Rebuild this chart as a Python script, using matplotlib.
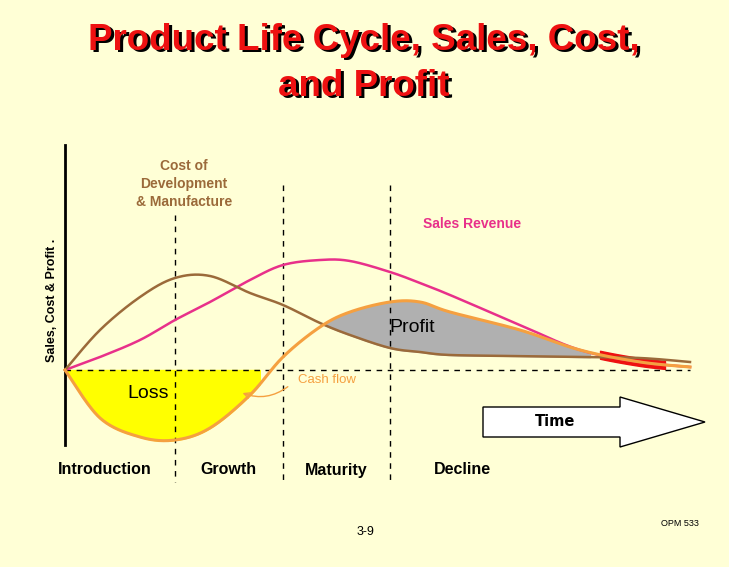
import matplotlib
matplotlib.use("Agg")
import matplotlib.pyplot as plt
import numpy as np
from matplotlib.patches import Polygon

# data (slide pixel space: x = time, y = level, inverted)
t = np.array([65,100,140,175,210,250,283,320,350,390,420,450,520,580,640,690])
sales = np.array([370,357,340,320,302,280,265,260,261,272,283,295,325,350,362,367])
cost = np.array([370,330,297,278,276,293,305,323,335,348,352,355,356,357,358,362])
cash = np.array([370,418,437,440,428,395,357,327,312,302,302,312,330,350,362,367])
stages = ["Introduction", "Growth", "Maturity", "Decline"]
stage_x = [105, 228, 336, 462]


def smooth(x, y, n=30):
    P = np.column_stack([x, y]).astype(float)
    P = np.vstack([P[0], P, P[-1]])
    out = []
    for i in range(1, len(P) - 2):
        p0, p1, p2, p3 = P[i - 1], P[i], P[i + 1], P[i + 2]
        for u in np.linspace(0, 1, n, endpoint=False):
            out.append(0.5 * ((2 * p1) + (-p0 + p2) * u + (2 * p0 - 5 * p1 + 4 * p2 - p3) * u ** 2
                              + (-p0 + 3 * p1 - 3 * p2 + p3) * u ** 3))
    out.append(P[-2])
    out = np.array(out)
    return out[:, 0], out[:, 1]


bg = "#FFFFD6"
fig = plt.figure(figsize=(7.29, 5.67), dpi=100, facecolor=bg)
ax = fig.add_axes([0, 0, 1, 1])
ax.set_facecolor(bg)
ax.set_xlim(0, 729); ax.set_ylim(567, 0); ax.axis("off")

tt = np.linspace(65, 690, 800)
s = np.interp(tt, *smooth(t, sales)); c = np.interp(tt, *smooth(t, cost)); f = np.interp(tt, *smooth(t, cash))
ax.fill_between(tt, 370, f, where=(f > 370) & (tt < 260), color="#FFFF00", zorder=1)
ax.fill_between(tt, c, f, where=(f < c) & (tt > 300) & (tt < 590), color="#B0B0B0", zorder=1)
ax.fill_between(tt, f - 4, f + 4, where=(tt > 600) & (tt < 665), color="#EE1111", zorder=2)

ax.plot(tt, s, color="#E8308A", lw=1.8, zorder=3)
ax.plot(tt, c, color="#9B6A3A", lw=1.8, zorder=3)
ax.plot(tt, f, color="#F5A040", lw=2.2, zorder=3)

ax.plot([65, 65], [145, 445], color="black", lw=2)
ax.plot([65, 690], [370, 370], color="black", lw=1, ls=(0, (4, 4)))
for x, y0 in [(175, 215), (283, 185), (390, 185)]:
    ax.plot([x, x], [y0, 482], color="black", lw=1, ls=(0, (4, 4)))

ax.add_patch(Polygon([(483, 407), (620, 407), (620, 397), (705, 422), (620, 447), (620, 437), (483, 437)],
                     closed=True, facecolor="white", edgecolor="black", lw=1, zorder=4))
ax.text(555, 422, "Time", fontsize=10.5, fontweight="bold", ha="center", va="center", zorder=5)

tf = ["Liberation Sans", "DejaVu Sans"]
for dx, col in [(2.5, "black"), (0, "#EE1111")]:
    ax.text(364 + dx, 40 + dx, "Product Life Cycle, Sales, Cost,", family=tf, fontsize=26.5, fontweight="bold",
            color=col, ha="center", va="center")
    ax.text(364 + dx, 86 + dx, "and Profit", family=tf, fontsize=26.5, fontweight="bold",
            color=col, ha="center", va="center")

ax.text(184, 184, "Cost of\nDevelopment\n& Manufacture", color="#9B6A3A", fontsize=10, fontweight="bold",
        ha="center", va="center", linespacing=1.4, family=tf)
ax.text(472, 224, "Sales Revenue", color="#E8308A", fontsize=10, fontweight="bold", ha="center", va="center", family=tf)
ax.text(412, 327, "Profit", fontsize=14, ha="center", va="center", zorder=5, family=tf)
ax.text(148, 393, "Loss", fontsize=14, ha="center", va="center", zorder=5, family=tf)
ax.text(327, 380, "Cash flow", color="#F5A040", fontsize=9.5, ha="center", va="center", family=tf)
ax.annotate("", xy=(240, 392), xytext=(290, 385),
            arrowprops=dict(arrowstyle="->", color="#F5A040", lw=1, connectionstyle="arc3,rad=-0.3"))
for name, x in zip(stages, stage_x):
    ax.text(x, 470, name, fontsize=11.5, fontweight="bold", ha="center", va="center", family=tf)
ax.text(52, 300, "Sales, Cost & Profit .", fontsize=9, fontweight="bold", rotation=90,
        ha="center", va="center", family=tf)
ax.text(366, 532, "3-9", fontsize=9, ha="center", va="center", family=tf)
ax.text(680, 524, "OPM 533", fontsize=6.5, ha="center", va="center", family=tf)

fig.savefig("out.png", dpi=100, facecolor=bg)
